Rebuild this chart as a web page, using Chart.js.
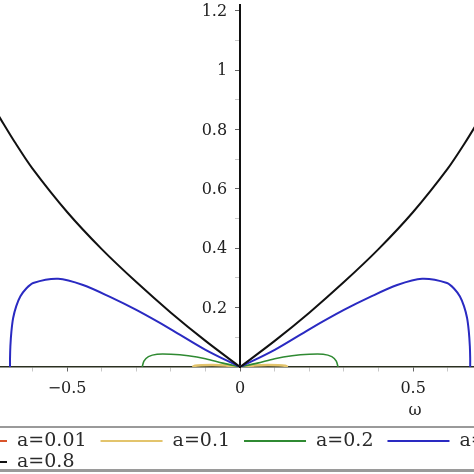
<!DOCTYPE html>
<html>
<head>
<meta charset="utf-8">
<script src="https://cdn.jsdelivr.net/npm/chart.js"></script>
<style>
  html, body { margin: 0; padding: 0; background: #fff; }
  #wrap { width: 474px; height: 474px; }
</style>
</head>
<body>
<div id="wrap"><canvas id="myChart"></canvas></div>
<script>
// legend labels, one per curve
const seriesLabels = ["a=0.01", "a=0.1", "a=0.2", "a=0.5", "a=0.8"];
const seriesColors = ["#d9542b", "#e3c46c", "#2f8a32", "#2a2ac2", "#111111"];

// omega values and curve heights
// (the origin is listed twice so each curve keeps its sharp V there)
const wRed = [-0.04, -0.02, 0, 0, 0.02, 0.04];
const yRed = [0, 0.001, 0, 0, 0.001, 0];

const wOrange = [-0.138, -0.13, -0.11, -0.08, -0.04, 0, 0, 0.04, 0.08, 0.11, 0.13, 0.138];
const yOrange = [0, 0.004, 0.006, 0.007, 0.005, 0, 0, 0.005, 0.007, 0.006, 0.004, 0];

const wGreen = [-0.283, -0.278, -0.265, -0.24, -0.2, -0.15, -0.1, -0.05, 0, 0,
                0.05, 0.1, 0.15, 0.2, 0.24, 0.265, 0.278, 0.283];
const yGreen = [0, 0.02, 0.035, 0.043, 0.043, 0.038, 0.028, 0.013, 0, 0,
                0.013, 0.028, 0.038, 0.043, 0.043, 0.035, 0.02, 0];

const wBlue = [-0.665, -0.665, -0.664, -0.661, -0.656, -0.647, -0.635, -0.62, -0.598, -0.526, -0.454, -0.376, -0.3, -0.2, -0.1, 0, 0,
               0.1, 0.2, 0.3, 0.376, 0.454, 0.526, 0.598, 0.62, 0.635, 0.647, 0.656, 0.661, 0.664, 0.665, 0.665];
const yBlue = [0, 0.03, 0.07, 0.12, 0.165, 0.205, 0.238, 0.262, 0.283, 0.297, 0.276, 0.236, 0.192, 0.127, 0.058, 0, 0,
               0.058, 0.127, 0.192, 0.236, 0.276, 0.297, 0.283, 0.262, 0.238, 0.205, 0.165, 0.12, 0.07, 0.03, 0];

const wBlack = [-0.7, -0.65, -0.6, -0.5, -0.4, -0.3, -0.2, -0.1, 0, 0,
                0.1, 0.2, 0.3, 0.4, 0.5, 0.6, 0.65, 0.7];
const yBlack = [0.85, 0.755, 0.668, 0.522, 0.397, 0.286, 0.183, 0.088, 0, 0,
                0.088, 0.183, 0.286, 0.397, 0.522, 0.668, 0.755, 0.85];

// ticks
const xTicks = [-0.6, -0.5, -0.4, -0.3, -0.2, -0.1, 0, 0.1, 0.2, 0.3, 0.4, 0.5, 0.6];
const xLabelled = [-0.5, 0, 0.5];
const yTicks = [0.1, 0.2, 0.3, 0.4, 0.5, 0.6, 0.7, 0.8, 0.9, 1, 1.1, 1.2];
const yLabelled = [0.2, 0.4, 0.6, 0.8, 1, 1.2];
const axisTitle = "ω";

const ws = [wRed, wOrange, wGreen, wBlue, wBlack];
const ys = [yRed, yOrange, yGreen, yBlue, yBlack];
const widths = [2, 2.5, 1.6, 2, 2];

function near(list, v) {
  return list.some(t => Math.abs(t - v) < 1e-6);
}

const datasets = seriesLabels.map((label, i) => ({
  label: label,
  data: ws[i].map((w, k) => ({ x: w, y: ys[i][k] })),
  borderColor: seriesColors[i],
  borderWidth: widths[i],
  showLine: true,
  pointRadius: 0,
  tension: 0.3,
  order: 5 - i,
}));

// y tick labels, axis title and the boxed legend under the plot
const extras = {
  id: "extras",
  afterDraw(chart) {
    const ctx = chart.ctx;
    const xs = chart.scales.x;
    const yscale = chart.scales.y;
    const x0 = xs.getPixelForValue(0);
    ctx.save();
    ctx.fillStyle = "#222";
    ctx.font = '16px "DejaVu Serif"';
    ctx.textAlign = "right";
    ctx.textBaseline = "middle";
    yLabelled.forEach(v => {
      ctx.fillText(String(v), x0 - 13, yscale.getPixelForValue(v) + 1);
    });

    ctx.textAlign = "center";
    ctx.fillText(axisTitle, xs.getPixelForValue(0.5) + 2, 411);

    ctx.fillStyle = "#9a9a9a";
    ctx.fillRect(0, 426, 474, 2);
    ctx.fillRect(0, 469, 474, 3);

    ctx.font = '19px "DejaVu Serif"';
    ctx.textAlign = "left";
    let x = -55;
    let row = 0;
    chart.data.datasets.forEach((ds, i) => {
      if (i === 4) { x = -55; row = 1; }
      const y = row ? 462 : 441;
      ctx.strokeStyle = ds.borderColor;
      ctx.lineWidth = 2;
      ctx.beginPath();
      ctx.moveTo(x, y);
      ctx.lineTo(x + 62, y);
      ctx.stroke();
      x += 72;
      ctx.fillStyle = "#2a2a2a";
      ctx.fillText(ds.label, x, y);
      x += ctx.measureText(ds.label).width + 14;
    });
    ctx.restore();
  },
};

// axes sit inside the plot, so their edge labels should not push the plot area in
function noEdgePadding(scale) {
  scale.paddingTop = 0;
  scale.paddingBottom = 0;
  scale.paddingLeft = 0;
  scale.paddingRight = 0;
}

const ctx = document.getElementById("myChart");

new Chart(ctx, {
  type: "scatter",
  data: { datasets: datasets },
  options: {
    responsive: true,
    maintainAspectRatio: false,
    animation: false,
    layout: { padding: { top: 5, bottom: 107, left: 0, right: 0 } },
    plugins: {
      legend: { display: false },
      tooltip: { enabled: false },
    },
    scales: {
      x: {
        type: "linear",
        min: -0.694,
        max: 0.676,
        position: { y: 0 },
        afterBuildTicks: (scale) => {
          scale.ticks = xTicks.map(v => ({ value: v }));
        },
        afterFit: noEdgePadding,
        grid: {
          drawOnChartArea: false,
          tickLength: 4,
          tickColor: (c) => near(xLabelled, c.tick.value) ? "#666" : "#c8c8c8",
        },
        border: { color: "#2b3020", width: 1.5 },
        ticks: {
          padding: 8,
          color: "#222",
          font: { family: "DejaVu Serif", size: 16 },
          autoSkip: false,
          maxRotation: 0,
          callback: (v) => near(xLabelled, v) ? String(v).replace("-", "\u2212") : "",
        },
      },
      y: {
        type: "linear",
        min: 0,
        max: 1.219,
        position: { x: 0 },
        afterBuildTicks: (scale) => {
          scale.ticks = yTicks.map(v => ({ value: v }));
        },
        afterFit: noEdgePadding,
        grid: {
          drawOnChartArea: false,
          tickLength: 4,
          tickColor: (c) => near(yLabelled, c.tick.value) ? "#666" : "#c8c8c8",
        },
        border: { color: "#111", width: 2 },
        ticks: { display: false },
      },
    },
  },
  plugins: [extras],
});
</script>
</body>
</html>
